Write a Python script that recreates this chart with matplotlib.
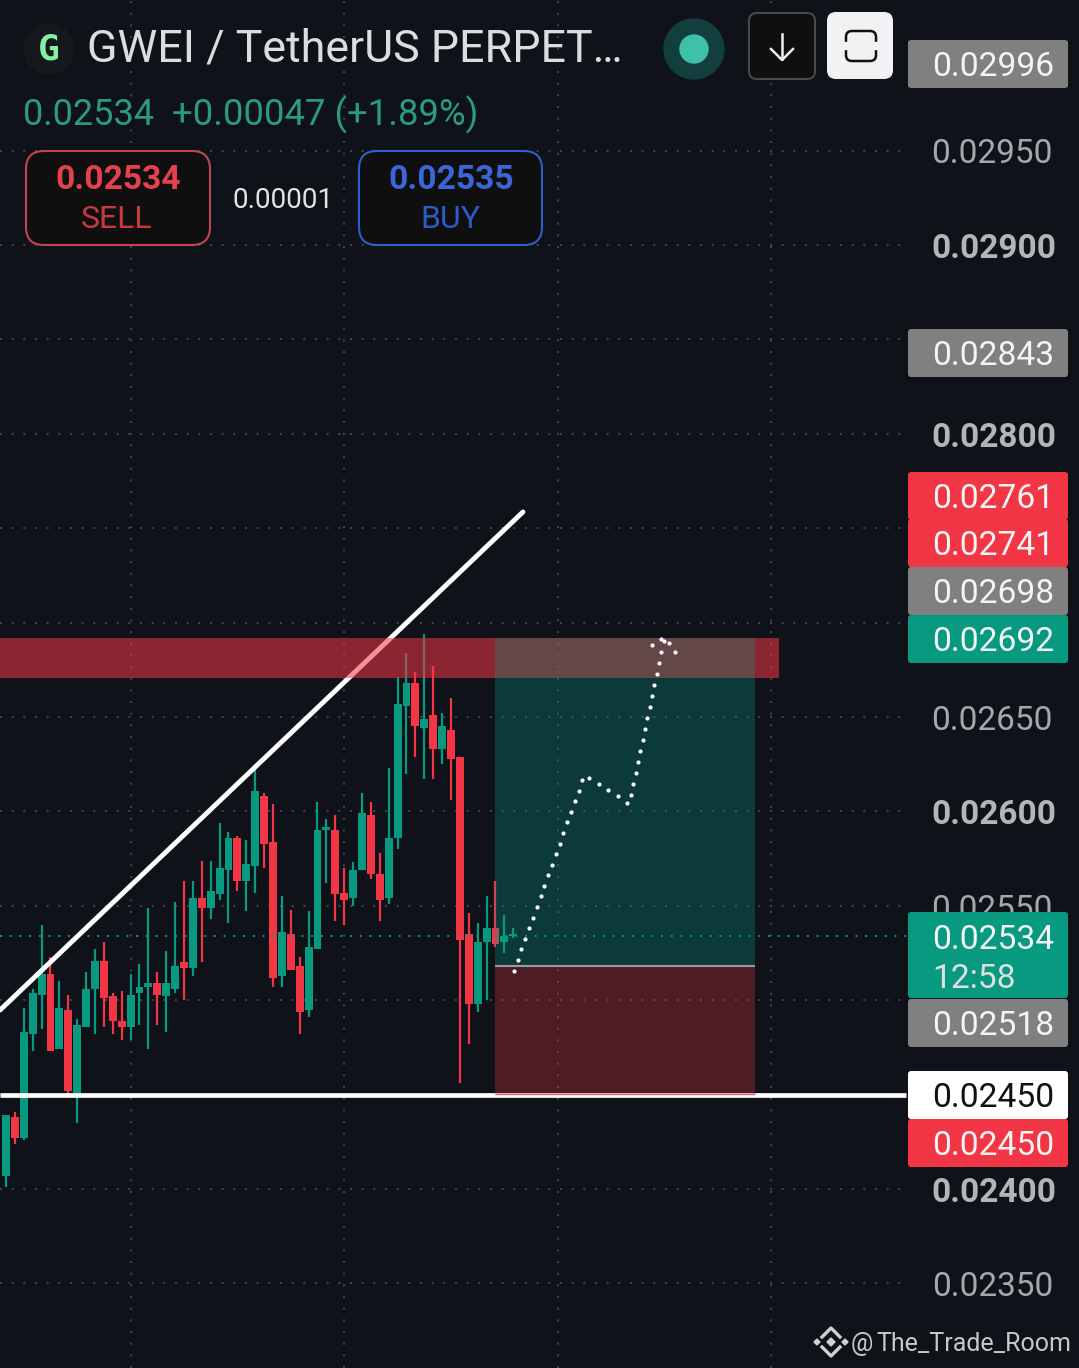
import numpy as np
import matplotlib.pyplot as plt
from matplotlib.patches import FancyBboxPatch, Circle, Polygon

plt.rcParams['font.family'] = ['Roboto', 'DejaVu Sans']

BG = '#0f1219'
GREEN = '#089981'
RED = '#F23645'
GRID = '#44474e'

# candles, one entry per bar
OPENS = [0.02407, 0.02438, 0.02427, 0.02482, 0.02503, 0.02514, 0.02474, 0.02495, 0.02451, 0.02486,
         0.02506, 0.02521, 0.02502, 0.02489, 0.02486, 0.02504, 0.02507, 0.02509, 0.02502, 0.02506,
         0.02520, 0.02517, 0.02554, 0.02549, 0.02556, 0.02569, 0.02586, 0.02563, 0.02571, 0.02608,
         0.02584, 0.02513, 0.02535, 0.02518, 0.02495, 0.02527, 0.02590, 0.02590, 0.02557, 0.02554,
         0.02569, 0.02598, 0.02567, 0.02554, 0.02586, 0.02656, 0.02668, 0.02644, 0.02651, 0.02633,
         0.02643, 0.02629, 0.02535, 0.02498, 0.02531, 0.02538, 0.02531, 0.02534]
CLOSES = [0.02439, 0.02427, 0.02483, 0.02504, 0.02514, 0.02473, 0.02496, 0.02452, 0.02487, 0.02506,
          0.02521, 0.02501, 0.02489, 0.02486, 0.02503, 0.02507, 0.02509, 0.02503, 0.02509, 0.02518,
          0.02517, 0.02554, 0.02549, 0.02558, 0.02570, 0.02586, 0.02563, 0.02572, 0.02611, 0.02583,
          0.02512, 0.02536, 0.02516, 0.02494, 0.02528, 0.02590, 0.02592, 0.02556, 0.02553, 0.02569,
          0.02599, 0.02567, 0.02553, 0.02586, 0.02657, 0.02668, 0.02645, 0.02649, 0.02633, 0.02645,
          0.02628, 0.02532, 0.02498, 0.02531, 0.02538, 0.02530, 0.02534, 0.02535]
HIGHS = [0.02439, 0.02441, 0.02496, 0.02506, 0.02540, 0.02523, 0.02510, 0.02503, 0.02490, 0.02515,
         0.02527, 0.02531, 0.02504, 0.02505, 0.02514, 0.02519, 0.02549, 0.02515, 0.02526, 0.02552,
         0.02563, 0.02563, 0.02574, 0.02574, 0.02594, 0.02589, 0.02587, 0.02585, 0.02623, 0.02610,
         0.02604, 0.02555, 0.02548, 0.02523, 0.02547, 0.02605, 0.02596, 0.02598, 0.02570, 0.02573,
         0.02610, 0.02605, 0.02578, 0.02623, 0.02671, 0.02684, 0.02674, 0.02694, 0.02677, 0.02652,
         0.02660, 0.02629, 0.02546, 0.02541, 0.02555, 0.02563, 0.02545, 0.02538]
LOWS = [0.02401, 0.02424, 0.02426, 0.02473, 0.02485, 0.02473, 0.02474, 0.02449, 0.02435, 0.02486,
        0.02482, 0.02486, 0.02482, 0.02479, 0.02479, 0.02487, 0.02474, 0.02487, 0.02483, 0.02504,
        0.02500, 0.02513, 0.02520, 0.02543, 0.02553, 0.02541, 0.02558, 0.02547, 0.02557, 0.02570,
        0.02507, 0.02507, 0.02516, 0.02482, 0.02491, 0.02527, 0.02562, 0.02542, 0.02540, 0.02550,
        0.02569, 0.02564, 0.02542, 0.02551, 0.02580, 0.02620, 0.02629, 0.02617, 0.02617, 0.02625,
        0.02606, 0.02456, 0.02477, 0.02494, 0.02500, 0.02528, 0.02525, 0.02533]

# hand drawn forecast dots
DOT_BARS = [57.04, 57.49, 57.90, 58.35, 58.77, 59.21, 59.63, 60.08, 60.49, 60.94, 61.35, 61.80, 62.21,
            62.62, 63.07, 63.48, 63.93, 64.35, 64.76, 65.51, 66.59, 67.64, 68.73, 69.78, 70.19, 70.49,
            70.75, 70.97, 71.27, 71.54, 71.80, 72.06, 72.32, 72.58, 72.85, 73.11, 73.37, 73.63, 72.55,
            73.63, 73.89, 74.46, 75.13]
DOT_PRICES = [0.025157, 0.025213, 0.025270, 0.025324, 0.025381, 0.025437, 0.025494, 0.025550, 0.025607,
              0.025661, 0.025718, 0.025773, 0.025829, 0.025886, 0.025942, 0.025997, 0.026053, 0.026110,
              0.026165, 0.026179, 0.026145, 0.026112, 0.026080, 0.026046, 0.026085, 0.026143, 0.026202,
              0.026260, 0.026318, 0.026376, 0.026435, 0.026493, 0.026551, 0.026609, 0.026668, 0.026726,
              0.026784, 0.026842, 0.026881, 0.026911, 0.026901, 0.026892, 0.026842]

TICK_PRICES = [0.02950, 0.02900, 0.02800, 0.02650, 0.02600, 0.02550, 0.02400, 0.02350, 0.02300]
TICK_LABELS = ['0.02950', '0.02900', '0.02800', '0.02650', '0.02600', '0.02550', '0.02400', '0.02350', '0.02300']
TICK_BOLD = [False, True, True, False, True, False, True, False, True]
GRID_PRICES = [0.02950, 0.02900, 0.02850, 0.02800, 0.02750, 0.02700, 0.02650,
               0.02600, 0.02550, 0.02500, 0.02450, 0.02400, 0.02350]
GRID_BARS = [14, 38, 62, 86]

LAST_PRICE = 0.02534
ENTRY_PRICE = 0.02518
TARGET_PRICE = 0.02692
STOP_PRICE = 0.02450
BAND_LOW = 0.026705
ZONE_BARS = (54.94, 84.16)
BAND_END_BAR = 86.85
TREND_BARS = [-0.67, 58.09]
TREND_PRICES = [0.024948, 0.027586]

TAG_LABELS = ['0.02996', '0.02843', '0.02761', '0.02741', '0.02698', '0.02692', '0.02518', '0.02450', '0.02450']
TAG_CENTERS = [64, 353, 496, 543, 591, 639, 1023, 1095, 1143]
TAG_COLORS = ['#808080', '#808080', RED, RED, '#808080', GREEN, '#808080', '#ffffff', RED]
TAG_TEXT = ['#f4f4f4', '#f4f4f4', '#f4f4f4', '#f4f4f4', '#f4f4f4', '#f4f4f4', '#f4f4f4', '#111111', '#f4f4f4']

W, H = 1079, 1368
BAR_PX = 8.9
BAR0_PX = 6


def px_to_bar(px):
    return (px - BAR0_PX) / BAR_PX


def round_box(ax, x0, y0, x1, y1, face, edge='none', lw=0, r=4, z=5):
    ax.add_patch(FancyBboxPatch((x0 + r, y0 + r), x1 - x0 - 2 * r, y1 - y0 - 2 * r,
                                boxstyle='round,pad=%s,rounding_size=%s' % (r, r),
                                facecolor=face, edgecolor=edge, linewidth=lw, zorder=z))


def draw_chart(ax):
    ax.set_facecolor(BG)
    ax.set_xlim(px_to_bar(0), px_to_bar(W))
    ax.set_ylim(0.0295 - (H - 150.5) * 5.2957e-6, 0.0295 + 150.5 * 5.2957e-6)
    ax.axis('off')

    right = px_to_bar(906)
    ax.hlines(GRID_PRICES, px_to_bar(0), right, colors=GRID, linewidth=1.4, linestyles=(0, (1, 5)), zorder=1)
    ax.vlines(GRID_BARS, ax.get_ylim()[0], ax.get_ylim()[1], colors=GRID, linewidth=1.4,
              linestyles=(0, (1, 5)), zorder=1)

    opens, closes = np.array(OPENS), np.array(CLOSES)
    bars = np.arange(len(opens))
    colors = [GREEN if c >= o else RED for o, c in zip(opens, closes)]
    ax.vlines(bars, LOWS, HIGHS, colors=colors, linewidth=1.6, zorder=2)
    ax.bar(bars, np.abs(closes - opens), bottom=np.minimum(opens, closes), width=0.88, color=colors, zorder=2)

    ax.hlines(LAST_PRICE, px_to_bar(0), right, colors=GREEN, linewidth=1.4, linestyles=(0, (1, 4)), zorder=2)

    ax.plot(TREND_BARS, TREND_PRICES, color='white', linewidth=3.5, solid_capstyle='round', zorder=3)
    ax.hlines(STOP_PRICE, px_to_bar(0), right, colors='white', linewidth=3.4, zorder=3)

    # resistance band and the long position box sit on top with alpha
    ax.fill_between([px_to_bar(0), BAND_END_BAR], BAND_LOW, TARGET_PRICE, color=RED, alpha=0.55, linewidth=0, zorder=4)
    ax.fill_between(ZONE_BARS, ENTRY_PRICE, TARGET_PRICE, color=GREEN, alpha=0.3, linewidth=0, zorder=5)
    ax.fill_between(ZONE_BARS, STOP_PRICE, ENTRY_PRICE, color=RED, alpha=0.28, linewidth=0, zorder=5)
    ax.hlines(ENTRY_PRICE, ZONE_BARS[0], ZONE_BARS[1], colors='#9a9a9a', linewidth=1.5, zorder=6)
    ax.hlines(STOP_PRICE + 0.000004, ZONE_BARS[0], ZONE_BARS[1], colors='#e06a72', linewidth=1, zorder=6)

    ax.scatter(DOT_BARS, DOT_PRICES, s=9, color='white', linewidth=0, zorder=7)

    for price, label, bold in zip(TICK_PRICES, TICK_LABELS, TICK_BOLD):
        ax.annotate(label, (px_to_bar(1056 if bold else 1053), price), xytext=(0, -2.8), textcoords='offset points',
                    color='#b4b5b8' if bold else '#a6a8ad', fontsize=24,
                    fontweight='bold' if bold else 'normal', ha='right', va='center', zorder=7)


def draw_logo(ui, x, y):
    color = '#d0d0d0'
    ui.add_patch(Polygon([(x - 4, y), (x, y - 4), (x + 4, y), (x, y + 4)], color=color, zorder=6))
    for side in (-1, 1):
        ui.add_patch(Polygon([(x + side * 14 - 3, y), (x + side * 14, y - 3), (x + side * 14 + 3, y),
                              (x + side * 14, y + 3)], color=color, zorder=6))
        ui.plot([x - 9, x, x + 9], [y + side * 5, y + side * 14, y + side * 5], color=color, linewidth=2.4, zorder=6)


def draw_ui(ui):
    ui.set_xlim(0, W)
    ui.set_ylim(H, 0)
    ui.axis('off')
    ui.patch.set_alpha(0)

    # price tags on the scale
    for label, center, color, text in zip(TAG_LABELS, TAG_CENTERS, TAG_COLORS, TAG_TEXT):
        round_box(ui, 908, center - 24, 1068, center + 24, color, r=3)
        ui.text(1054, center + 3, label, color=text, fontsize=24.2, ha='right', va='center', zorder=6)
    round_box(ui, 908, 912, 1068, 998, GREEN, r=3)
    ui.text(1054, 940, '0.02534', color='#f4f4f4', fontsize=24.2, ha='right', va='center', zorder=6)
    ui.text(932, 979, '12:58', color='#e0e0e0', fontsize=24.2, ha='left', va='center', zorder=6)

    # symbol header
    ui.add_patch(Circle((49, 49), 25, color='#15191e', zorder=5))
    ui.text(49, 49, 'G', color='#86f0a0', fontsize=26, fontweight='bold', family='DejaVu Sans Mono',
            ha='center', va='center', zorder=6)
    ui.text(87, 50, 'GWEI / TetherUS PERPET…', color='#dcdde0', fontsize=32.2, ha='left', va='center', zorder=6)
    ui.text(23, 115, '0.02534', color='#2b9a84', fontsize=26, ha='left', va='center', zorder=6)
    ui.text(172, 115, '+0.00047 (+1.89%)', color='#2b9a84', fontsize=26.3, ha='left', va='center', zorder=6)

    # sell and buy
    round_box(ui, 26, 151, 210, 245, '#0f0f10', '#c0474f', 1.5, r=18)
    ui.text(118, 180, '0.02534', color='#e2414d', fontsize=24.2, fontweight='bold', ha='center', va='center', zorder=6)
    ui.text(117, 220, 'SELL', color='#c9373f', fontsize=23, ha='center', va='center', zorder=6)
    ui.text(283, 200, '0.00001', color='#e4e4e4', fontsize=20, ha='center', va='center', zorder=6)
    round_box(ui, 359, 151, 542, 245, '#0f0f10', '#2f5fc8', 1.5, r=18)
    ui.text(451, 180, '0.02535', color='#3c66d8', fontsize=24.2, fontweight='bold', ha='center', va='center', zorder=6)
    ui.text(450, 220, 'BUY', color='#2f5ac4', fontsize=23, ha='center', va='center', zorder=6)

    # status dot and buttons
    ui.add_patch(Circle((694, 49), 30, color='#123f3e', zorder=5))
    ui.add_patch(Circle((694, 49), 14, color='#40c0a8', zorder=6))
    round_box(ui, 749, 13, 815, 79, '#0f0f0f', '#47494d', 1.5, r=8)
    ui.plot([782, 782], [34, 59], color='#f0f0f0', linewidth=1.8, zorder=6)
    ui.plot([771, 782, 793], [49, 60, 49], color='#f0f0f0', linewidth=1.8, zorder=6)
    round_box(ui, 827, 12, 893, 79, '#f2f2f4', r=9)
    round_box(ui, 846, 31, 876, 61, 'none', '#111111', 1.8, r=6, z=6)
    ui.plot([844, 878], [46, 46], color='#f2f2f4', linewidth=6, zorder=7)

    # watermark
    draw_logo(ui, 831, 1342)
    ui.text(851, 1344, '@', color='#c8c8c8', fontsize=18, ha='left', va='center', zorder=6)
    ui.text(876, 1344, 'The_Trade_Room', color='#c8c8c8', fontsize=18, ha='left', va='center', zorder=6)


def main():
    fig = plt.figure(figsize=(W / 100, H / 100), dpi=100, facecolor=BG)
    ax = fig.add_axes([0, 0, 1, 1])
    ui = fig.add_axes([0, 0, 1, 1])
    draw_chart(ax)
    draw_ui(ui)
    fig.savefig('out.png', dpi=100, facecolor=BG)


if __name__ == '__main__':
    main()
